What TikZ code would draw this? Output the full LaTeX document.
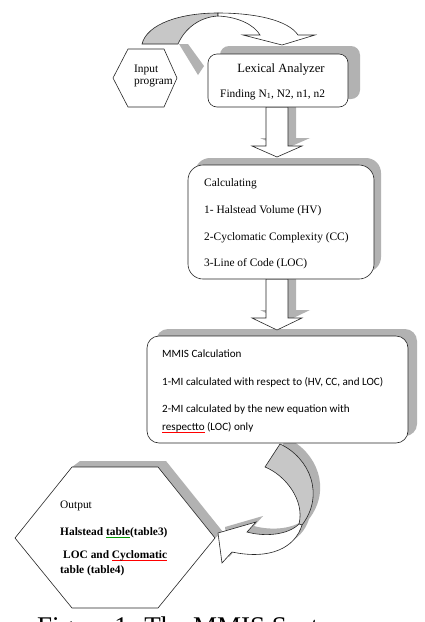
\documentclass[tikz,border=0pt]{standalone}
\usepackage{fontspec}
\setmainfont{Liberation Serif}
\newfontfamily\calfont{Carlito}
\usetikzlibrary{calc}
\tikzset{
  shd/.style={fill=black!30,draw=none},
  sbox/.style={draw=black!85,fill=white,line width=0.6pt},
  sback/.style={draw=black!85,fill=black!22,line width=0.6pt},
  txt/.style={anchor=base west,inner sep=0pt,font=\fontsize{11.4}{13}\selectfont},
  btxt/.style={anchor=base west,inner sep=0pt,font=\bfseries\fontsize{11.4}{13}\selectfont},
  ctxt/.style={anchor=base west,inner sep=0pt,font=\calfont\fontsize{11.1}{12}\selectfont}
}
\newsavebox\wavebox
\newcommand{\wavy}[2]{\leavevmode\sbox\wavebox{#2}%
  \rlap{\color{#1}\hbox to \wd\wavebox{\xleaders\hbox{\rule[-2.8pt]{0.9pt}{0.5pt}\rule[-2.2pt]{0.9pt}{0.5pt}}\hfill}}\usebox\wavebox}

\begin{document}
\begin{tikzpicture}[x=1pt,y=-1pt]
\useasboundingbox (0,0) rectangle (425,622);
\fill[white] (0,0) rectangle (425,622);

\fill[shd] (179,44)--(188,44)--(204,66)--(198,75)--cycle;
\fill[shd,shift={(8,-8)}] (266,107)--(288,107)--(288,146)--(302,146)--(277,157)--(252,146)--(266,146)--cycle;
\fill[shd,shift={(8,-8)}] (266,279)--(288,279)--(288,318)--(302,318)--(277,330)--(252,318)--(266,318)--cycle;
\fill[shd,rounded corners=9] (220,46) rectangle (360,99);
\fill[shd,rounded corners=15] (195,158) rectangle (381,272);
\fill[shd,rounded corners=12] (156,329) rectangle (417,436);
\fill[shd] (80,461)--(166,461)--(223,532)--(215,538)--(158,467)--(72,467)--cycle;
\fill[shd,shift={(7,-6)}] (280,444) .. controls (310,458) and (325,495) .. (302,525)
  .. controls (295,548) and (270,560) .. (232,552) -- (222,563) -- (218,533) -- (256,522) -- (247,532)
  .. controls (265,537) and (288,535) .. (299,524) .. controls (305,500) and (285,475) .. (265,467) -- cycle;

\draw[sbox] (266,107)--(288,107)--(288,146)--(302,146)--(277,157)--(252,146)--(266,146)--cycle;
\draw[sbox] (266,279)--(288,279)--(288,318)--(302,318)--(277,330)--(252,318)--(266,318)--cycle;

\draw[sbox,rounded corners=9] (208,54) rectangle (348,107);
\draw[sbox,rounded corners=15] (188,165) rectangle (374,279);
\draw[sbox,rounded corners=12] (147,336) rectangle (408,443);
\draw[sbox] (128,49)--(164,49)--(177,78)--(164,107)--(128,107)--(113,78)--cycle;
\draw[sbox] (72,467)--(158,467)--(215,538)--(158,608)--(72,608)--(15,538)--cycle;

\draw[sback] (142,44) .. controls (147,24) and (180,13) .. (218,13) -- (218,16)
  .. controls (200,17) and (185,28) .. (178,44) -- cycle;
\draw[sbox] (218,13) .. controls (255,13) and (288,20) .. (298,35) -- (315,35) -- (282,45)
  -- (243,35) -- (260,35) .. controls (255,26) and (240,17) .. (218,16) -- cycle;

\draw[sback] (280,444) .. controls (310,458) and (325,495) .. (302,525) -- (299,524)
  .. controls (305,500) and (285,475) .. (265,467) -- cycle;
\draw[sbox] (302,525) .. controls (295,548) and (270,560) .. (232,552) -- (222,563) -- (218,533)
  -- (256,522) -- (247,532) .. controls (265,537) and (288,535) .. (299,524) -- cycle;

\node[txt] (in1) at (134,72) {Input};
\node[txt] (in2) at (134,84) {program};
\node[txt,anchor=base,font=\fontsize{12.6}{14}\selectfont] (lex1) at (281,72) {Lexical Analyzer};
\node[txt] (lex2) at (220,97) {Finding N\textsubscript{1}, N2, n1, n2};
\node[txt] (calc1) at (204,186) {Calculating};
\node[txt] (calc2) at (204,213) {1- Halstead Volume (HV)};
\node[txt] (calc3) at (204,240) {2-Cyclomatic Complexity (CC)};
\node[txt] (calc4) at (204,266) {3-Line of Code (LOC)};
\node[ctxt] (mmis1) at (162,357) {MMIS Calculation};
\node[ctxt] (mmis2) at (162,385) {1-MI calculated with respect to (HV, CC, and LOC)};
\node[ctxt] (mmis3) at (162,412) {2-MI calculated by the new equation with};
\node[ctxt] (mmis4) at (162,430) {\wavy{red}{respectto} (LOC) only};
\node[txt] (out1) at (60,508) {Output};
\node[btxt] (out2) at (60,535) {Halstead \wavy{green!60!black}{table}(table3)};
\node[btxt] (out3) at (63,558) {LOC and \wavy{red}{Cyclomatic}};
\node[btxt] (out4) at (60,573) {table (table4)};
\node[anchor=base west,inner sep=0pt,font=\fontsize{27}{30}\selectfont] (cap) at (37,635) {Figure 1: The MMIS System};
\end{tikzpicture}
\end{document}
